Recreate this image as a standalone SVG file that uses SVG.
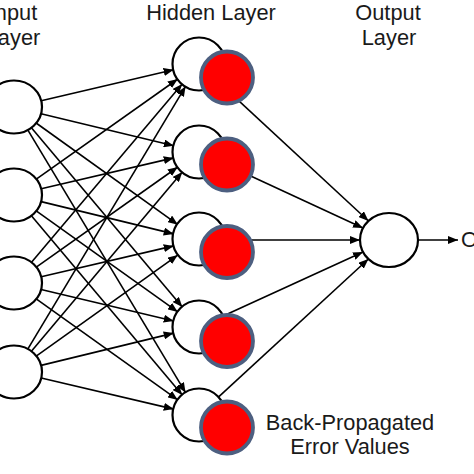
<svg xmlns="http://www.w3.org/2000/svg" width="474" height="474" viewBox="0 0 474 474">
<style>
.lbl{font-family:"Liberation Sans",Arial,sans-serif;font-size:21.8px;fill:#1a1a1a;text-anchor:middle}
.node{fill:#fff;stroke:#000;stroke-width:2.2}
.err{fill:#ff0000;stroke:#4d5f80;stroke-width:3.8}
.c line{stroke:#000;stroke-width:1.6;marker-end:url(#ah)}
</style>
<defs>
<marker id="ah" viewBox="0 0 10 8" refX="10" refY="4" markerWidth="10" markerHeight="8" markerUnits="userSpaceOnUse" orient="auto">
<path d="M0,0 L10,4 L0,8 z" fill="#000"/>
</marker>
</defs>
<rect width="474" height="474" fill="#fff"/>
<g id="labels">
<text class="lbl" x="13" y="20">Input</text>
<text class="lbl" x="13" y="45">Layer</text>
<text class="lbl" x="211" y="20">Hidden Layer</text>
<text class="lbl" x="388" y="20">Output</text>
<text class="lbl" x="389" y="45">Layer</text>
<text class="lbl" x="461" y="247" style="text-anchor:start">Output</text>
<text class="lbl" x="350" y="430">Back-Propagated</text>
<text class="lbl" x="350" y="454">Error Values</text>
</g>
<g id="connectors" class="c">
<line x1="41.2" y1="100.8" x2="173.6" y2="69.7"/>
<line x1="41.0" y1="113.7" x2="173.8" y2="145.7"/>
<line x1="36.1" y1="123.0" x2="177.9" y2="224.7"/>
<line x1="31.2" y1="127.5" x2="182.3" y2="307.1"/>
<line x1="27.6" y1="129.7" x2="185.6" y2="392.7"/>
<line x1="36.3" y1="179.2" x2="177.8" y2="79.0"/>
<line x1="41.2" y1="188.7" x2="173.7" y2="157.9"/>
<line x1="41.1" y1="201.6" x2="173.7" y2="233.9"/>
<line x1="36.2" y1="210.8" x2="177.8" y2="311.9"/>
<line x1="31.2" y1="215.5" x2="182.3" y2="395.1"/>
<line x1="31.3" y1="262.5" x2="182.2" y2="83.9"/>
<line x1="36.3" y1="267.2" x2="177.8" y2="167.0"/>
<line x1="41.2" y1="276.7" x2="173.7" y2="245.9"/>
<line x1="41.1" y1="289.5" x2="173.7" y2="321.0"/>
<line x1="36.2" y1="298.8" x2="177.8" y2="399.9"/>
<line x1="27.6" y1="349.3" x2="185.6" y2="86.3"/>
<line x1="31.2" y1="351.5" x2="182.3" y2="171.9"/>
<line x1="36.2" y1="356.2" x2="177.8" y2="255.1"/>
<line x1="41.1" y1="365.4" x2="173.7" y2="333.1"/>
<line x1="41.2" y1="378.0" x2="173.7" y2="409.1"/>
<line x1="218.1" y1="81.7" x2="368.5" y2="221"/>
<line x1="222.6" y1="162.9" x2="363" y2="228"/>
<line x1="225" y1="240" x2="360" y2="240"/>
<line x1="222.6" y1="316.2" x2="363" y2="252"/>
<line x1="218.1" y1="397.4" x2="368.4" y2="259"/>
<line x1="418" y1="240" x2="458" y2="240"/>
</g>
<g id="input1"><ellipse class="node" cx="14" cy="107" rx="28" ry="26.5"/></g>
<g id="input2"><ellipse class="node" cx="14" cy="195" rx="28" ry="26.5"/></g>
<g id="input3"><ellipse class="node" cx="14" cy="283" rx="28" ry="26.5"/></g>
<g id="input4"><ellipse class="node" cx="14" cy="372" rx="28" ry="26.5"/></g>
<g id="hidden1"><circle class="node" cx="199" cy="64" r="26.5"/><circle class="err" cx="227" cy="77.5" r="26"/></g>
<g id="hidden2"><circle class="node" cx="199" cy="152" r="26.5"/><circle class="err" cx="227" cy="164.5" r="26"/></g>
<g id="hidden3"><circle class="node" cx="199" cy="239" r="26.5"/><circle class="err" cx="227" cy="252" r="26"/></g>
<g id="hidden4"><circle class="node" cx="199" cy="327" r="26.5"/><circle class="err" cx="227" cy="341" r="26"/></g>
<g id="hidden5"><circle class="node" cx="199" cy="415" r="26.5"/><circle class="err" cx="227" cy="427.5" r="26"/></g>
<g id="output"><ellipse class="node" cx="389" cy="240" rx="29" ry="27"/></g>
</svg>
